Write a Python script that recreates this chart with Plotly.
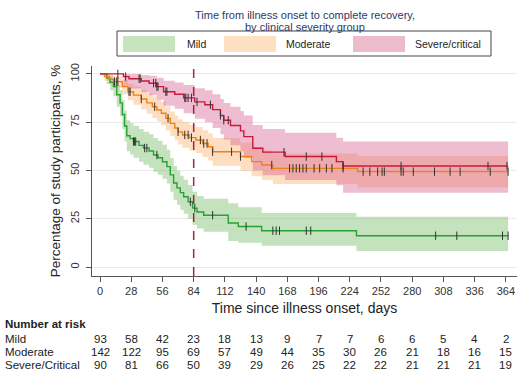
import numpy as np
import plotly.graph_objects as go

# ---------------- data ----------------
END_DAY = 366

mild_t  = [0, 6, 9, 12, 15, 18, 20, 22, 24, 27, 30, 35, 39, 44, 48, 52, 56, 60, 63, 66, 69, 72, 75, 79, 83, 87, 93, 115, 124, 145, 230]
mild_s  = [100, 97.8, 95.7, 93.5, 89.2, 85, 79, 73, 68, 66.5, 65, 63, 61.6, 60.1, 58, 56.6, 54.5, 52, 47.7, 43.5, 41, 38.5, 36.4, 33.8, 30.5, 28.5, 26.8, 22.8, 21, 18.8, 16.2]
mild_lo = [100, 94.8, 91.5, 88.4, 83, 78, 71.5, 65, 60, 58.3, 56.6, 54.5, 53, 51.4, 49.3, 47.8, 45.7, 43.3, 39, 34.8, 32.2, 29.7, 27.6, 25, 21.9, 20, 18.3, 13.5, 12.5, 11, 8.3]
mild_hi = [100, 100, 99, 97.5, 94.4, 91.5, 86.5, 81, 76, 74.5, 73, 71.5, 70, 68.8, 66.8, 65.4, 63.3, 60.7, 56.5, 52.3, 49.8, 47.3, 45.2, 42.5, 39, 36.8, 35.3, 33, 31, 28, 26]
mild_cens = [30, 31, 32, 40, 42, 51, 81, 85, 101, 131, 155, 158, 161, 185, 189, 301, 320, 361, 366]

mod_t  = [0, 4, 8, 12, 20, 25, 30, 37, 42, 47, 51, 55, 59, 63, 67, 70, 74, 80, 86, 92, 97, 101, 126, 136, 145, 155, 231]
mod_s  = [100, 98.6, 97.2, 96, 93.5, 90.8, 89, 87, 85, 83, 81.3, 79.6, 77, 74.4, 72, 70, 68.4, 67, 65.8, 64, 62.3, 59.7, 57.2, 54.6, 52.8, 51.1, 49.4]
mod_lo = [100, 96.5, 94.5, 92.8, 89.5, 86.3, 84, 81.7, 79.4, 77.2, 75.3, 73.4, 70.7, 68, 65.5, 63.4, 61.7, 60.2, 59, 57, 55.2, 52.5, 49.8, 47, 45, 43, 41.2]
mod_hi = [100, 100, 99.5, 98.8, 97, 94.8, 93.5, 91.8, 90.1, 88.4, 87, 85.5, 83.1, 80.6, 78.4, 76.5, 75, 73.6, 72.5, 70.8, 69.2, 66.8, 64.5, 62, 60.4, 58.8, 57.5]
mod_cens = [13, 15, 16, 26, 27, 37, 49, 61, 70, 76, 79, 82, 90, 93, 96, 101, 118, 126, 154, 170, 173, 176, 179, 182, 185,
            192, 197, 203, 208, 218, 236, 242, 249, 253, 255, 270, 272, 281, 300, 314, 323, 350, 366]

sev_t  = [0, 21, 26, 37, 44, 51, 57, 67, 75, 85, 94, 101, 108, 111, 117, 126, 129, 137, 146, 166, 212, 218]
sev_s  = [100, 98.6, 97.5, 96.3, 95.2, 93.4, 90.8, 89.5, 87.6, 85.5, 84, 81.5, 78.5, 76, 73.3, 70.5, 67.5, 61.5, 59.5, 57.2, 54.6, 52.3]
sev_lo = [100, 94, 92.5, 90.5, 89, 86.8, 83.5, 82, 79.6, 76.8, 75, 72, 68.8, 66, 63, 60, 56.5, 50, 47.5, 45, 42.3, 38.5]
sev_hi = [100, 100, 100, 99.5, 99, 98, 96.5, 95.5, 94.3, 92.6, 91.5, 89.5, 87, 85, 83, 80.8, 78.5, 73.5, 71.5, 69.5, 67, 65]
sev_cens = [16, 23, 35, 36, 48, 50, 51, 52, 59, 60, 76, 77, 79, 82, 87, 99, 108, 111, 115, 165, 185, 199, 218, 270, 348, 365]

group_names = ["Mild", "Moderate", "Severe/critical"]
risk_labels = ["Mild", "Moderate", "Severe/Critical"]
tick_days = [0, 28, 56, 84, 112, 140, 168, 196, 224, 252, 280, 308, 336, 364]
risk_mild = [93, 58, 42, 23, 18, 13, 9, 7, 7, 6, 6, 5, 4, 2]
risk_mod  = [142, 122, 95, 69, 57, 49, 44, 35, 30, 26, 21, 18, 16, 15]
risk_sev  = [90, 81, 66, 50, 39, 29, 26, 25, 22, 22, 21, 21, 21, 19]
landmark_day = 84
title_lines = ["Time from illness onset to complete recovery,", "by clinical severity group"]

# ---------------- styles ----------------
line_cols = ["rgb(40,160,50)", "rgb(240,128,24)", "rgb(200,24,60)"]
band_cols = ["rgba(95,175,75,0.36)", "rgba(250,168,90,0.38)", "rgba(212,90,140,0.40)"]
swatch_cols = ["#c8e4be", "#fde0c2", "#ecbccc"]
FONT = "Liberation Sans, Arial, sans-serif"

groups = [
    (mild_t, mild_s, mild_lo, mild_hi, mild_cens),
    (mod_t, mod_s, mod_lo, mod_hi, mod_cens),
    (sev_t, sev_s, sev_lo, sev_hi, sev_cens),
]

def ext(t, v):
    return list(t) + [END_DAY], list(v) + [v[-1]]

fig = go.Figure()

# CI bands
for (t, s, lo, hi, c), bc, name in zip(groups, band_cols, group_names):
    tx, lox = ext(t, lo)
    _, hix = ext(t, hi)
    fig.add_trace(go.Scatter(x=tx, y=lox, mode="lines", line=dict(width=0, shape="hv"),
                             showlegend=False, hoverinfo="skip"))
    fig.add_trace(go.Scatter(x=tx, y=hix, mode="lines", line=dict(width=0, shape="hv"),
                             fill="tonexty", fillcolor=bc, showlegend=False, name=name + " 95% CI",
                             hoverinfo="skip"))

# KM step lines
for (t, s, lo, hi, c), lc, name in zip(groups, line_cols, group_names):
    tx, sx = ext(t, s)
    fig.add_trace(go.Scatter(x=tx, y=sx, mode="lines", line=dict(width=1.4, color=lc, shape="hv"),
                             name=name, showlegend=False))

# censor ticks
for (t, s, lo, hi, c), name in zip(groups, group_names):
    ta = np.array(t)
    sa = np.array(s)
    idx = np.searchsorted(ta, np.array(c), side="right") - 1
    fig.add_trace(go.Scatter(x=c, y=sa[idx], mode="markers",
                             marker=dict(symbol="line-ns", size=6, line=dict(width=1, color="#333333")),
                             showlegend=False, name=name + " censored"))

# landmark dashed line
fig.add_vline(x=landmark_day, line=dict(color="#a3243f", width=1.5, dash="dash"))

# ---------------- layout ----------------
W, H = 520, 372
L, R, T, B = 92, 3, 66, 96
pw, ph = W - L - R, H - T - B

def px_x(X):
    return (X - L) / pw

def px_y(Y):
    return (H - B - Y) / ph

fig.update_layout(
    width=W, height=H,
    margin=dict(l=L, r=R, t=T, b=B),
    paper_bgcolor="white", plot_bgcolor="white",
    font=dict(family=FONT, size=11, color="#222222"),
    showlegend=False,
    xaxis=dict(range=[-7.2, 374], tickvals=tick_days, ticks="outside", ticklen=5, tickwidth=1,
               tickcolor="#555555", showline=True, linecolor="#555555", linewidth=1,
               showgrid=False, zeroline=False, tickfont=dict(size=11, color="#333333"),
               title=dict(text="Time since illness onset, days", font=dict(size=14, color="#222222"),
                          standoff=6)),
    yaxis=dict(range=[-4.66, 104.1], tickvals=[0, 25, 50, 75, 100], ticks="outside", ticklen=5,
               tickwidth=1, tickcolor="#555555", showline=True, linecolor="#555555", linewidth=1,
               showgrid=True, gridcolor="#ebebeb", gridwidth=1, zeroline=False, tickangle=-90,
               ticklabelstandoff=3,
               tickfont=dict(size=11, color="#333333"),
               title=dict(text="Percentage of study participants, %", font=dict(size=13.5, color="#222222"),
                          standoff=4)),
)

ann = []
# chart title (two lines)
for line, Y in zip(title_lines, [15, 27]):
    ann.append(dict(text=line, xref="paper", yref="paper", x=0.5, y=px_y(Y), xanchor="center",
                    yanchor="middle", showarrow=False, font=dict(size=11, color="#2b3a67")))

# legend (drawn)
shapes = [dict(type="rect", xref="paper", yref="paper", x0=px_x(117), x1=px_x(491),
               y0=px_y(56), y1=px_y(31), line=dict(color="#444444", width=1), fillcolor="white")]
sw_x = [(123, 175), (224, 276), (353, 405)]
txt_x = [185, 284, 413]
for (a, b), col, tx, name in zip(sw_x, swatch_cols, txt_x, group_names):
    shapes.append(dict(type="rect", xref="paper", yref="paper", x0=px_x(a), x1=px_x(b),
                       y0=px_y(52), y1=px_y(36), line=dict(width=0), fillcolor=col))
    ann.append(dict(text=name, xref="paper", yref="paper", x=px_x(tx), y=px_y(44),
                    xanchor="left", yanchor="middle", showarrow=False,
                    font=dict(size=10.5, color="#222222")))

# number at risk table
ann.append(dict(text="<b>Number at risk</b>", xref="paper", yref="paper", x=px_x(3), y=px_y(324),
                xanchor="left", yanchor="middle", showarrow=False, font=dict(size=11.5, color="#222222")))
for lab, vals, Y in zip(risk_labels, [risk_mild, risk_mod, risk_sev], [339, 352, 365]):
    ann.append(dict(text=lab, xref="paper", yref="paper", x=px_x(3), y=px_y(Y),
                    xanchor="left", yanchor="middle", showarrow=False, font=dict(size=11.5, color="#222222")))
    for d, v in zip(tick_days, vals):
        ann.append(dict(text=str(v), xref="x", yref="paper", x=d, y=px_y(Y),
                        xanchor="center", yanchor="middle", showarrow=False,
                        font=dict(size=11.5, color="#222222")))

fig.update_layout(annotations=ann, shapes=fig.layout.shapes + tuple(shapes))
fig.write_html("out.html", config={"displayModeBar": False},
               post_script="document.body.style.margin='0';document.body.style.overflow='hidden';")
